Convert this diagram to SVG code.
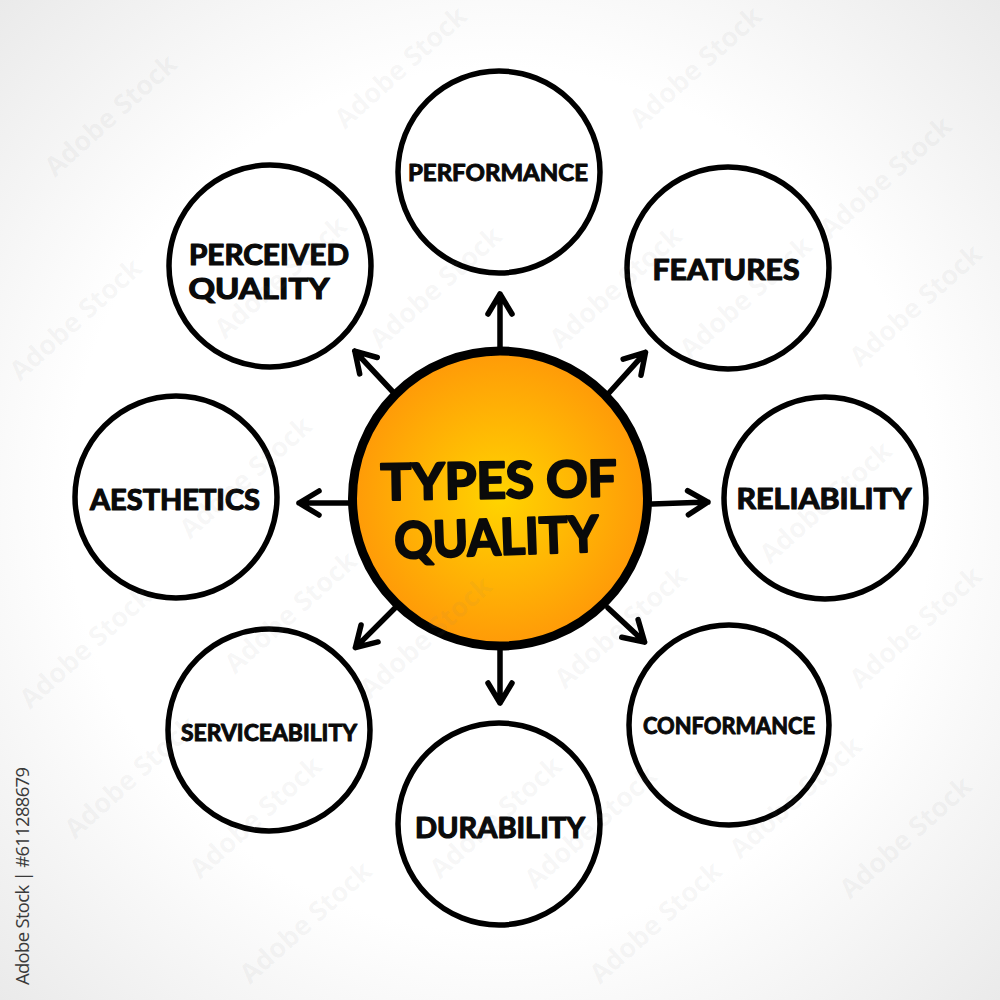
<svg xmlns="http://www.w3.org/2000/svg" xmlns:xlink="http://www.w3.org/1999/xlink" width="1000" height="1000" viewBox="0 0 1000 1000">
<style>
.sat{fill:#fff;stroke:#000;stroke-width:5.500}
.lab{font-family:"Lato","Liberation Sans",sans-serif;font-weight:700;fill:#0a0a0a;stroke:#0a0a0a;stroke-linejoin:round;text-anchor:middle}
.m{font-size:28px;stroke-width:1.2}
.s{font-size:23px;stroke-width:1}
.c{font-size:50px;stroke-width:2.4}
.con{stroke:#000;stroke-width:5.500;fill:none;stroke-linecap:round;stroke-linejoin:round}
.wm{font-family:"Open Sans","Liberation Sans",sans-serif;font-size:27px;font-weight:700;fill:#808080;fill-opacity:.07}
</style>
<defs>
<radialGradient id="bg" cx="50%" cy="50%" r="72%">
<stop offset="0" stop-color="#fff"/><stop offset=".6" stop-color="#fff"/><stop offset="1" stop-color="#e9e9e9"/>
</radialGradient>
<radialGradient id="core"><stop offset="0" stop-color="#ffd400"/><stop offset="1" stop-color="#ff9a08"/></radialGradient>
<path id="arrow" d="M0 0V-56M-12 -36L0 -56L12 -36"/>
<path id="arrow-short" d="M0 0V-50M-12 -30L0 -50L12 -30"/>
</defs>
<rect id="background" width="1000" height="1000" fill="url(#bg)"/>
<g id="connectors" class="con">
<use xlink:href="#arrow" href="#arrow" transform="translate(500 350)"/>
<use xlink:href="#arrow" href="#arrow" transform="translate(608 394) rotate(42)"/>
<use xlink:href="#arrow" href="#arrow" transform="translate(652 504) rotate(88)"/>
<use xlink:href="#arrow-short" href="#arrow-short" transform="translate(608 608) rotate(133)"/>
<use xlink:href="#arrow" href="#arrow" transform="translate(500 647) rotate(180)"/>
<use xlink:href="#arrow" href="#arrow" transform="translate(395 608) rotate(-135)"/>
<use xlink:href="#arrow-short" href="#arrow-short" transform="translate(349 503) rotate(-90)"/>
<use xlink:href="#arrow" href="#arrow" transform="translate(393 392) rotate(-43)"/>
</g>
<g id="node-center">
<circle cx="500" cy="498.500" r="147.500" fill="url(#core)" stroke="#000" stroke-width="9"/>
<text class="lab c" x="499" y="498" textLength="236" lengthAdjust="spacingAndGlyphs" transform="rotate(-1 499 498)">TYPES OF</text>
<text class="lab c" x="497" y="555" textLength="204" lengthAdjust="spacingAndGlyphs" transform="rotate(-2 497 555)">QUALITY</text>
</g>
<g id="node-performance"><circle class="sat" cx="499" cy="172" r="101"/><text class="lab s" x="498" y="181" textLength="180" lengthAdjust="spacingAndGlyphs">PERFORMANCE</text></g>
<g id="node-features"><circle class="sat" cx="728" cy="268" r="101"/><text class="lab m" x="726" y="280" textLength="147" lengthAdjust="spacingAndGlyphs">FEATURES</text></g>
<g id="node-reliability"><circle class="sat" cx="825" cy="498" r="101"/><text class="lab m" x="824" y="509" textLength="175" lengthAdjust="spacingAndGlyphs">RELIABILITY</text></g>
<g id="node-conformance"><circle class="sat" cx="729" cy="725" r="100"/><text class="lab s" x="729" y="734" textLength="172" lengthAdjust="spacingAndGlyphs">CONFORMANCE</text></g>
<g id="node-durability"><circle class="sat" cx="499" cy="824" r="101"/><text class="lab m" x="500" y="838" textLength="170" lengthAdjust="spacingAndGlyphs">DURABILITY</text></g>
<g id="node-serviceability"><circle class="sat" cx="269" cy="730" r="101"/><text class="lab s" x="269" y="741" textLength="176" lengthAdjust="spacingAndGlyphs">SERVICEABILITY</text></g>
<g id="node-aesthetics"><circle class="sat" cx="176" cy="497" r="101"/><text class="lab m" x="175" y="510" textLength="170" lengthAdjust="spacingAndGlyphs">AESTHETICS</text></g>
<g id="node-perceived"><circle class="sat" cx="270" cy="266" r="101"/>
<text class="lab m" x="269" y="265" textLength="160" lengthAdjust="spacingAndGlyphs">PERCEIVED</text>
<text class="lab m" x="259" y="299" textLength="141" lengthAdjust="spacingAndGlyphs">QUALITY</text></g>
<g id="watermarks">
<text class="wm" transform="translate(55 178) rotate(-42)">Adobe Stock</text>
<text class="wm" transform="translate(345 130) rotate(-42)">Adobe Stock</text>
<text class="wm" transform="translate(640 130) rotate(-42)">Adobe Stock</text>
<text class="wm" transform="translate(830 240) rotate(-42)">Adobe Stock</text>
<text class="wm" transform="translate(860 368) rotate(-42)">Adobe Stock</text>
<text class="wm" transform="translate(20 382) rotate(-42)">Adobe Stock</text>
<text class="wm" transform="translate(225 340) rotate(-42)">Adobe Stock</text>
<text class="wm" transform="translate(380 350) rotate(-42)">Adobe Stock</text>
<text class="wm" transform="translate(560 350) rotate(-42)">Adobe Stock</text>
<text class="wm" transform="translate(690 360) rotate(-42)">Adobe Stock</text>
<text class="wm" transform="translate(190 540) rotate(-42)">Adobe Stock</text>
<text class="wm" transform="translate(770 565) rotate(-42)">Adobe Stock</text>
<text class="wm" transform="translate(860 690) rotate(-42)">Adobe Stock</text>
<text class="wm" transform="translate(30 710) rotate(-42)">Adobe Stock</text>
<text class="wm" transform="translate(235 675) rotate(-42)">Adobe Stock</text>
<text class="wm" transform="translate(370 700) rotate(-42)">Adobe Stock</text>
<text class="wm" transform="translate(565 690) rotate(-42)">Adobe Stock</text>
<text class="wm" transform="translate(75 840) rotate(-42)">Adobe Stock</text>
<text class="wm" transform="translate(200 880) rotate(-42)">Adobe Stock</text>
<text class="wm" transform="translate(440 880) rotate(-42)">Adobe Stock</text>
<text class="wm" transform="translate(535 890) rotate(-42)">Adobe Stock</text>
<text class="wm" transform="translate(740 860) rotate(-42)">Adobe Stock</text>
<text class="wm" transform="translate(850 900) rotate(-42)">Adobe Stock</text>
<text class="wm" transform="translate(250 985) rotate(-42)">Adobe Stock</text>
<text class="wm" transform="translate(600 985) rotate(-42)">Adobe Stock</text>
</g>
<text id="stock-id" transform="translate(29 985) rotate(-90)" font-family="'Open Sans','Liberation Sans',sans-serif" font-size="18.500" fill="#3a3a3a" textLength="218">Adobe Stock | #611288679</text>
</svg>
